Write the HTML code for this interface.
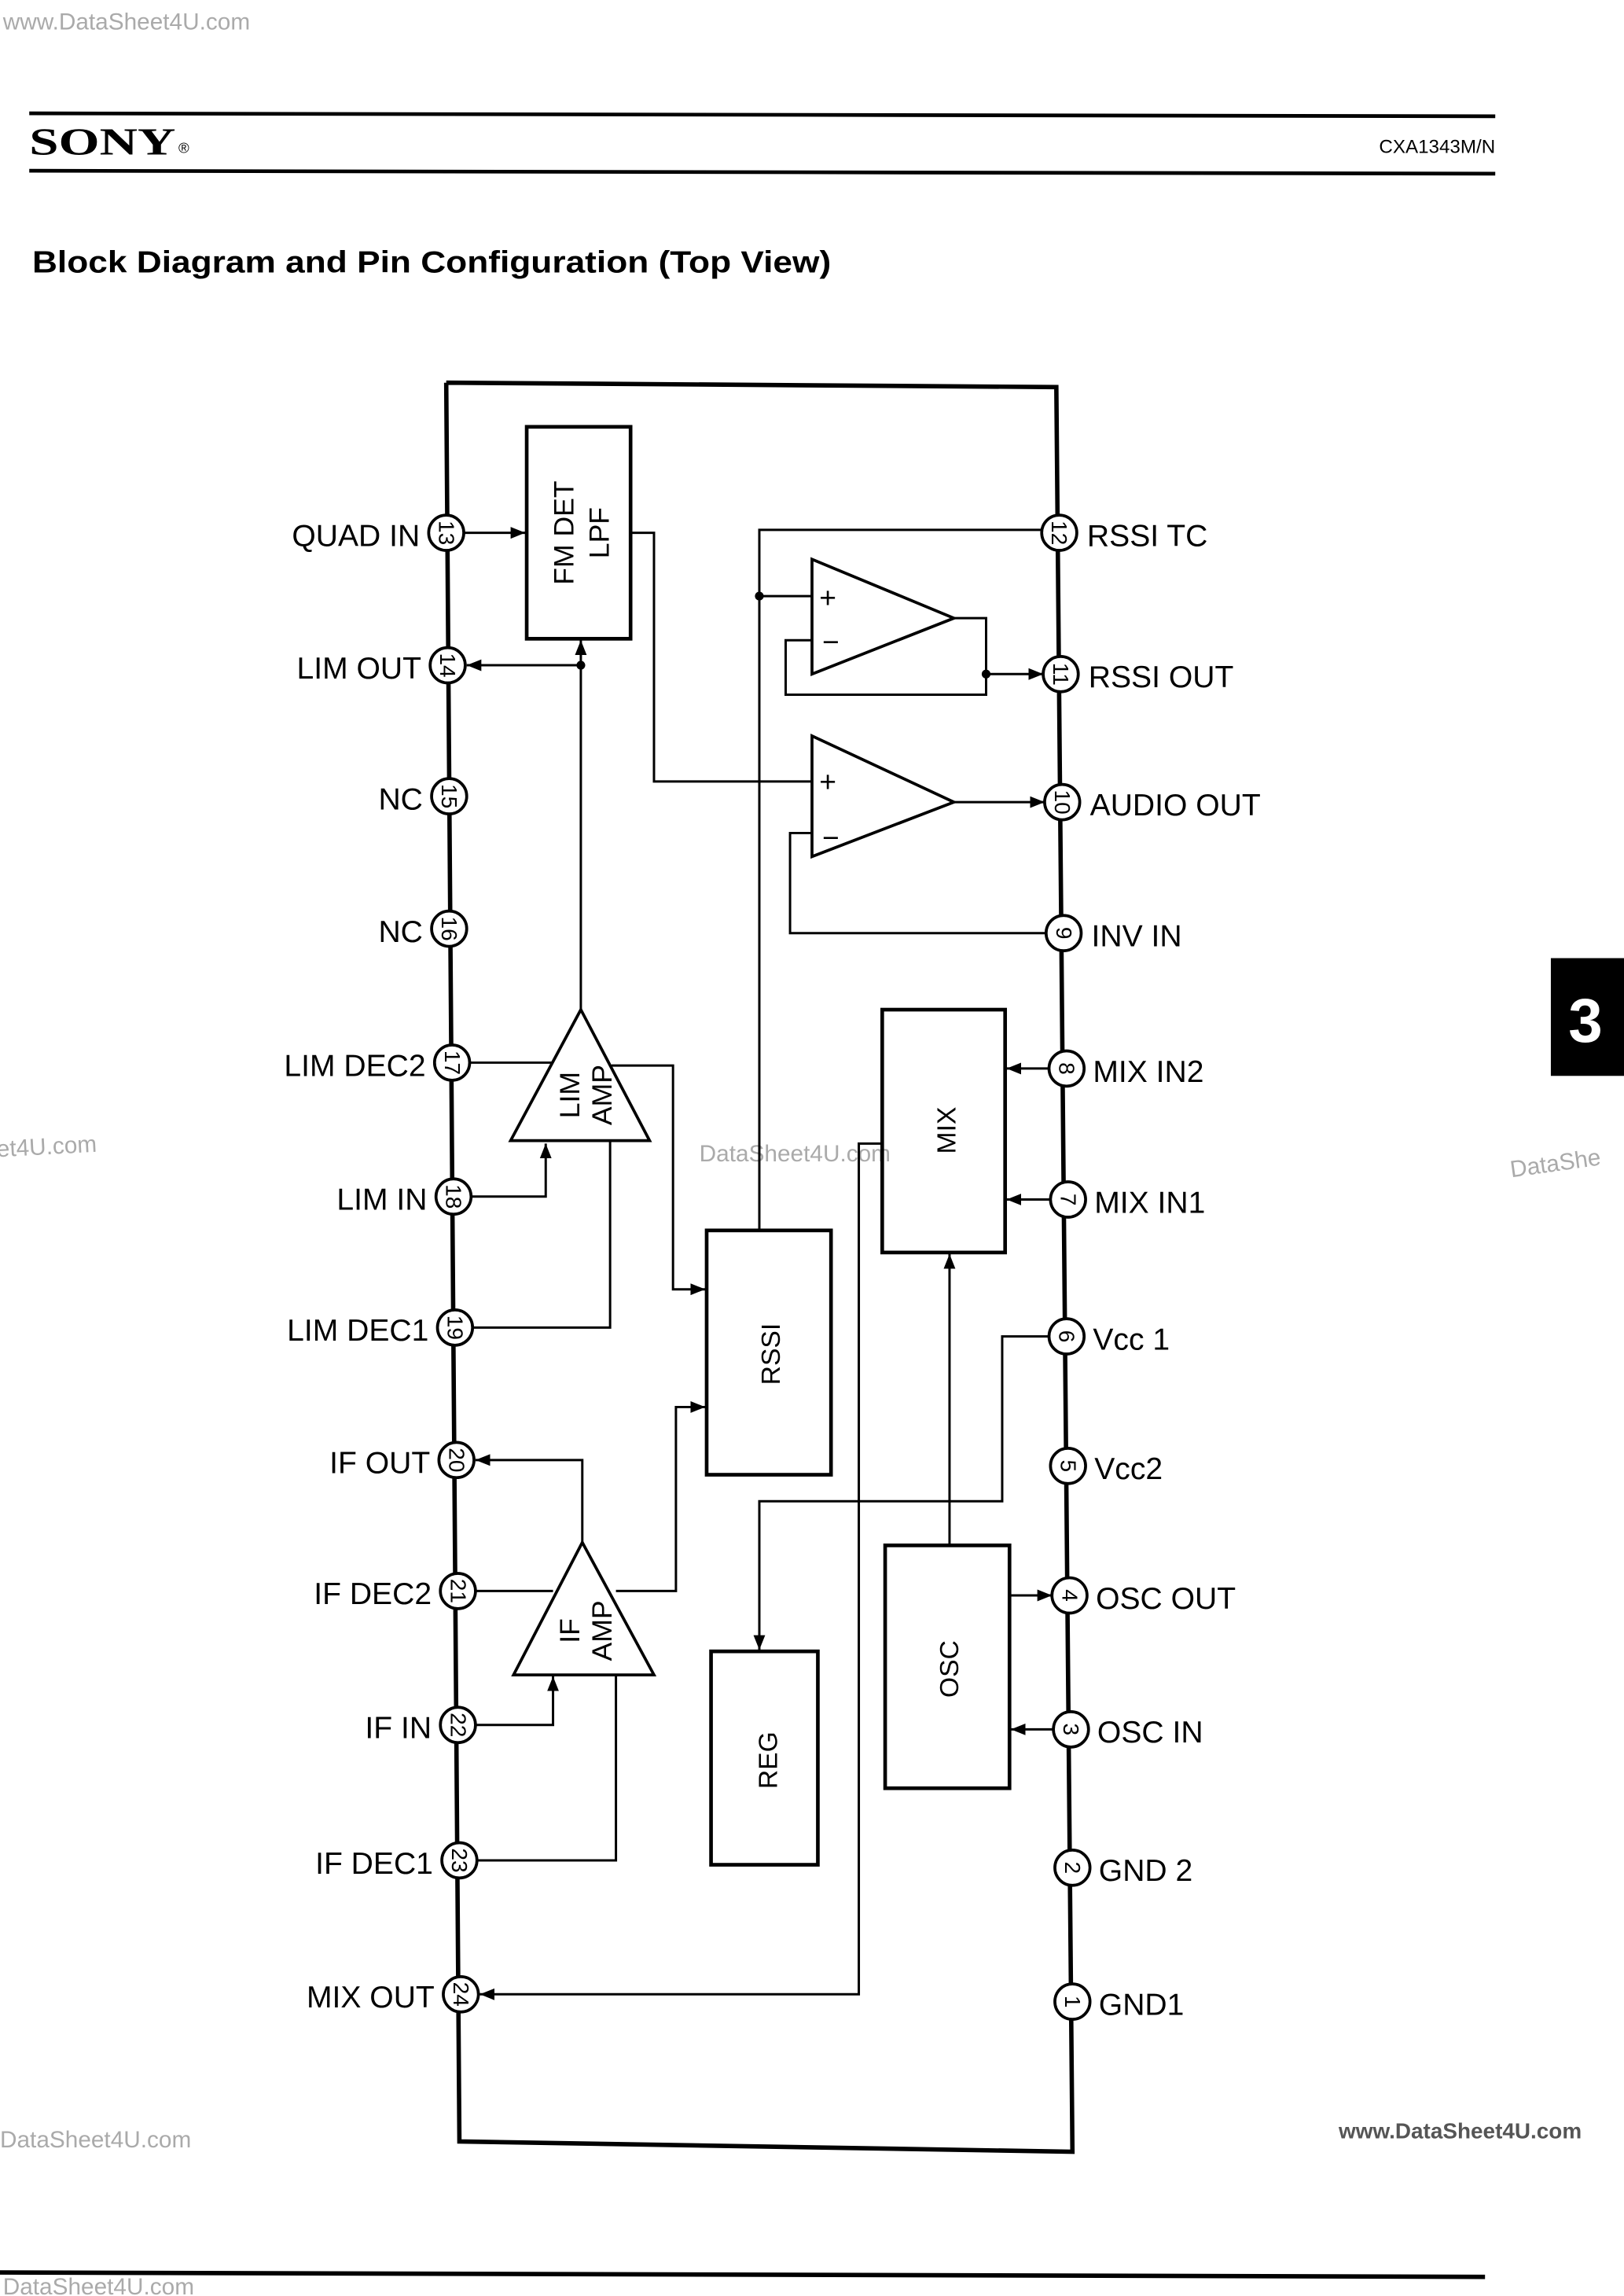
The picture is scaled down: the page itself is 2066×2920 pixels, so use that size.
<!DOCTYPE html>
<html><head><meta charset="utf-8"><style>
html,body{margin:0;padding:0;background:#fff;}
svg{display:block;}
text{font-family:"Liberation Sans",sans-serif;}
</style></head><body>
<svg width="2066" height="2920" viewBox="0 0 1110 1560" preserveAspectRatio="none" xmlns="http://www.w3.org/2000/svg">
<defs>
<marker id="a" viewBox="0 0 10 10" refX="10" refY="5" markerWidth="10" markerHeight="10" markerUnits="userSpaceOnUse" orient="auto"><path d="M0,1 L10,5 L0,9 z" fill="#000"/></marker>
</defs>
<rect width="1110" height="1560" fill="#fff"/>
<!-- watermarks -->
<g fill="#aaa" font-size="16">
<text x="2" y="20">www.DataSheet4U.com</text>
<text x="-2" y="786" transform="rotate(-3 0 786)">et4U.com</text>
<text x="478" y="789">DataSheet4U.com</text>
<text x="1033" y="800" transform="rotate(-8 1033 800)">DataShe</text>
<text x="0" y="1459">DataSheet4U.com</text>
<text x="2" y="1559">DataSheet4U.com</text>
</g>
<text x="915" y="1453" font-size="15" font-weight="bold" fill="#555">www.DataSheet4U.com</text>
<!-- header -->
<line x1="20" y1="77" x2="1022" y2="79" stroke="#000" stroke-width="2.5"/>
<line x1="20" y1="116" x2="1022" y2="118" stroke="#000" stroke-width="2.5"/>
<text x="20" y="105" font-weight="bold" font-size="26" textLength="100" lengthAdjust="spacingAndGlyphs" style="font-family:'Liberation Serif',serif">SONY</text>
<text x="122" y="104" font-size="10">®</text>
<text x="1022" y="104" font-size="13" text-anchor="end">CXA1343M/N</text>
<text x="22" y="185" font-size="21" font-weight="bold" textLength="546" lengthAdjust="spacingAndGlyphs">Block Diagram and Pin Configuration (Top View)</text>
<rect x="1060" y="651" width="50" height="80" fill="#000"/>
<text x="1072" y="708" font-size="42" font-weight="bold" fill="#fff">3</text>
<line x1="0" y1="1544" x2="1015" y2="1547" stroke="#000" stroke-width="3"/>
<!-- package outline -->
<g stroke="#000" stroke-width="3" fill="none">
<polyline points="305,260 722,263 733,1462 314,1455 305,260"/>
</g>
<!-- thin lines -->
<g stroke="#000" stroke-width="1.6" fill="none">
<rect x="360" y="290" width="71" height="144" stroke-width="2.5"/>
<line x1="317" y1="362" x2="359" y2="362" marker-end="url(#a)"/>
<polyline points="431,362 447,362 447,531 555,531"/>
<line x1="397" y1="686" x2="397" y2="435" marker-end="url(#a)"/>
<line x1="397" y1="452" x2="319" y2="452" marker-end="url(#a)"/>
<!-- opamp1 -->
<polygon points="555,380 555,458 652,420" stroke-width="2"/>
<polyline points="519,836 519,360 713,360"/>
<line x1="519" y1="405" x2="555" y2="405"/>
<polyline points="652,420 674,420 674,472 537,472 537,435 555,435"/>
<line x1="674" y1="458" x2="713" y2="458" marker-end="url(#a)"/>
<!-- opamp2 -->
<polygon points="555,500 555,582 652,545" stroke-width="2"/>
<line x1="652" y1="545" x2="714" y2="545" marker-end="url(#a)"/>
<polyline points="555,566 540,566 540,634 715,634"/>
<!-- MIX -->
<rect x="603" y="686" width="84" height="165" stroke-width="2.5"/>
<line x1="717" y1="726" x2="688" y2="726" marker-end="url(#a)"/>
<line x1="718" y1="815" x2="688" y2="815" marker-end="url(#a)"/>
<polyline points="603,777 587,777 587,1355 328,1355" marker-end="url(#a)"/>
<!-- LIM AMP -->
<polygon points="397,686 349,775 444,775" stroke-width="2"/>
<line x1="321" y1="722" x2="378" y2="722"/>
<polyline points="418,724 460,724 460,876 482,876" marker-end="url(#a)"/>
<polyline points="322,813 373,813 373,777" marker-end="url(#a)"/>
<polyline points="323,902 417,902 417,776"/>
<!-- RSSI -->
<rect x="483" y="836" width="85" height="166" stroke-width="2.5"/>
<!-- IF AMP -->
<polygon points="398,1048 351,1138 447,1138" stroke-width="2"/>
<polyline points="398,1048 398,992 325,992" marker-end="url(#a)"/>
<line x1="325" y1="1081" x2="378" y2="1081"/>
<polyline points="421,1081 462,1081 462,956 482,956" marker-end="url(#a)"/>
<polyline points="325,1172 378,1172 378,1139" marker-end="url(#a)"/>
<polyline points="326,1264 421,1264 421,1138"/>
<!-- REG -->
<rect x="486" y="1122" width="73" height="145" stroke-width="2.5"/>
<polyline points="717,908 685,908 685,1020 519,1020 519,1121" marker-end="url(#a)"/>
<!-- OSC -->
<rect x="605" y="1050" width="85" height="165" stroke-width="2.5"/>
<line x1="649" y1="1050" x2="649" y2="852" marker-end="url(#a)"/>
<line x1="690" y1="1084" x2="719" y2="1084" marker-end="url(#a)"/>
<line x1="721" y1="1175" x2="691" y2="1175" marker-end="url(#a)"/>
</g>
<g fill="#000">
<circle cx="397" cy="452" r="3"/><circle cx="519" cy="405" r="3"/><circle cx="674" cy="458" r="3"/>
</g>
<!-- op amp signs -->
<g font-size="20">
<text x="560" y="413">+</text><text x="562" y="443">−</text>
<text x="560" y="538">+</text><text x="562" y="576">−</text>
</g>
<!-- block labels -->
<g font-size="19" text-anchor="middle">
<text transform="translate(392,362) rotate(-90)">FM DET</text>
<text transform="translate(416,362) rotate(-90)">LPF</text>
<text transform="translate(653,768) rotate(-90)" font-size="18">MIX</text>
<text transform="translate(533,920) rotate(-90)" font-size="18">RSSI</text>
<text transform="translate(531,1196) rotate(-90)" font-size="18">REG</text>
<text transform="translate(655,1134) rotate(-90)" font-size="18">OSC</text>
<text transform="translate(396,744) rotate(-90)">LIM</text>
<text transform="translate(418,744) rotate(-90)">AMP</text>
<text transform="translate(396,1108) rotate(-90)">IF</text>
<text transform="translate(418,1108) rotate(-90)">AMP</text>
</g>
<!-- pins -->
<g stroke="#000" stroke-width="2" fill="#fff">
<circle cx="305" cy="362" r="12"/><circle cx="306" cy="452" r="12"/><circle cx="307" cy="541" r="12"/><circle cx="307" cy="631" r="12"/>
<circle cx="309" cy="722" r="12"/><circle cx="310" cy="813" r="12"/><circle cx="311" cy="902" r="12"/><circle cx="312" cy="992" r="12"/>
<circle cx="313" cy="1081" r="12"/><circle cx="313" cy="1172" r="12"/><circle cx="314" cy="1264" r="12"/><circle cx="315" cy="1355" r="12"/>
<circle cx="724" cy="362" r="12"/><circle cx="725" cy="458" r="12"/><circle cx="726" cy="545" r="12"/><circle cx="727" cy="634" r="12"/>
<circle cx="729" cy="726" r="12"/><circle cx="730" cy="815" r="12"/><circle cx="729" cy="908" r="12"/><circle cx="730" cy="996" r="12"/>
<circle cx="731" cy="1084" r="12"/><circle cx="732" cy="1175" r="12"/><circle cx="733" cy="1269" r="12"/><circle cx="733" cy="1360" r="12"/>
</g>
<g font-size="15" text-anchor="middle">
<text transform="translate(300,362) rotate(90)">13</text>
<text transform="translate(301,452) rotate(90)">14</text>
<text transform="translate(302,541) rotate(90)">15</text>
<text transform="translate(302,631) rotate(90)">16</text>
<text transform="translate(304,722) rotate(90)">17</text>
<text transform="translate(305,813) rotate(90)">18</text>
<text transform="translate(306,902) rotate(90)">19</text>
<text transform="translate(307,992) rotate(90)">20</text>
<text transform="translate(308,1081) rotate(90)">21</text>
<text transform="translate(308,1172) rotate(90)">22</text>
<text transform="translate(309,1264) rotate(90)">23</text>
<text transform="translate(310,1355) rotate(90)">24</text>
<text transform="translate(719,362) rotate(90)">12</text>
<text transform="translate(720,458) rotate(90)">11</text>
<text transform="translate(721,545) rotate(90)">10</text>
<text transform="translate(722,634) rotate(90)">9</text>
<text transform="translate(724,726) rotate(90)">8</text>
<text transform="translate(725,815) rotate(90)">7</text>
<text transform="translate(724,908) rotate(90)">6</text>
<text transform="translate(725,996) rotate(90)">5</text>
<text transform="translate(726,1084) rotate(90)">4</text>
<text transform="translate(727,1175) rotate(90)">3</text>
<text transform="translate(728,1269) rotate(90)">2</text>
<text transform="translate(728,1360) rotate(90)">1</text>
</g>
<g font-size="21" text-anchor="end">
<text x="287" y="371">QUAD IN</text>
<text x="288" y="461">LIM OUT</text>
<text x="289" y="550">NC</text>
<text x="289" y="640">NC</text>
<text x="291" y="731">LIM DEC2</text>
<text x="292" y="822">LIM IN</text>
<text x="293" y="911">LIM DEC1</text>
<text x="294" y="1001">IF OUT</text>
<text x="295" y="1090">IF DEC2</text>
<text x="295" y="1181">IF IN</text>
<text x="296" y="1273">IF DEC1</text>
<text x="297" y="1364">MIX OUT</text>
</g>
<g font-size="21">
<text x="743" y="371">RSSI TC</text>
<text x="744" y="467">RSSI OUT</text>
<text x="745" y="554">AUDIO OUT</text>
<text x="746" y="643">INV IN</text>
<text x="747" y="735">MIX IN2</text>
<text x="748" y="824">MIX IN1</text>
<text x="747" y="917">Vcc 1</text>
<text x="748" y="1005">Vcc2</text>
<text x="749" y="1093">OSC OUT</text>
<text x="750" y="1184">OSC IN</text>
<text x="751" y="1278">GND 2</text>
<text x="751" y="1369">GND1</text>
</g>
</svg>
</body></html>
